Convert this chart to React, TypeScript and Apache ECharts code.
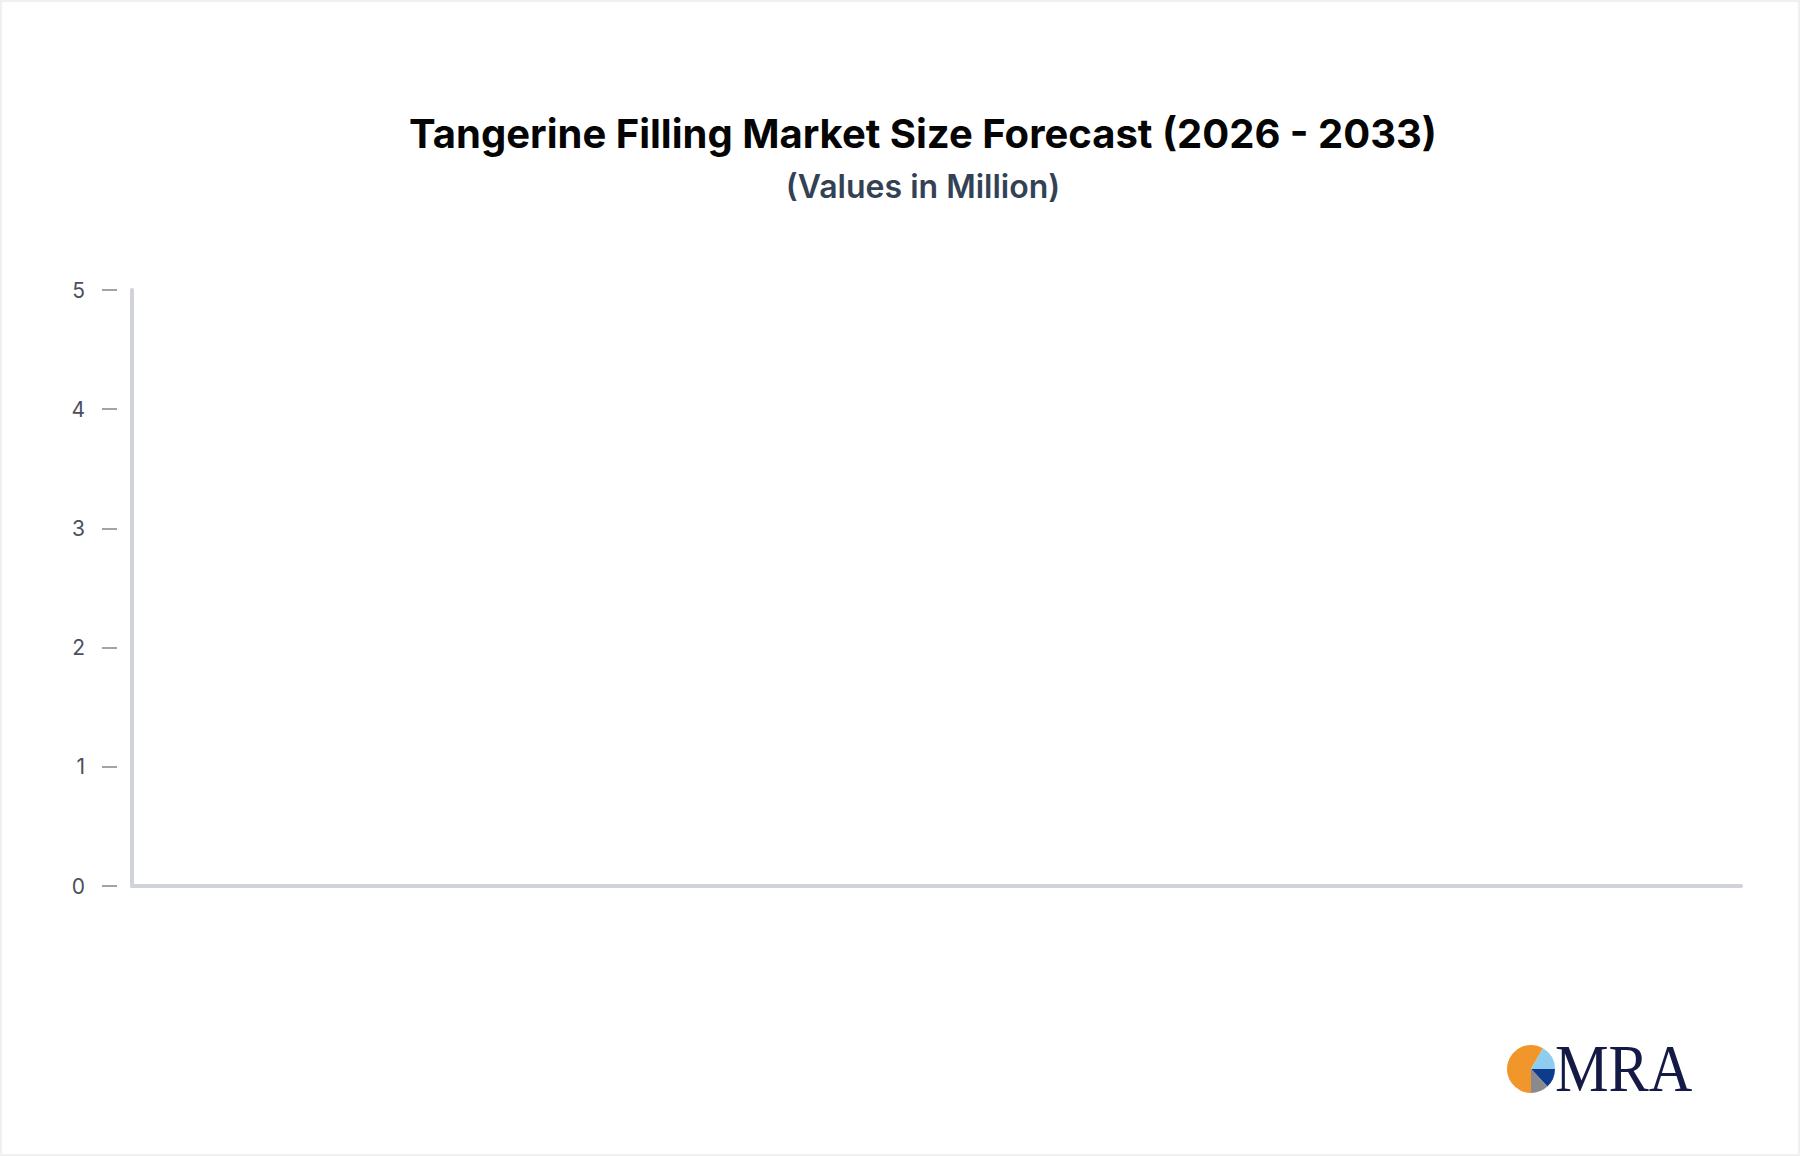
import React, { useEffect, useRef } from "react";
import * as echarts from "echarts";

const titleText = "Tangerine Filling Market Size Forecast (2026 - 2033)";
const subtitleText = "(Values in Million)";
const categories: string[] = [];
const seriesValues: number[] = [];
const yMin = 0;
const yMax = 5;
const yInterval = 1;

export default function App() {
  const ref = useRef<HTMLDivElement>(null);
  useEffect(() => {
    document.body.style.margin = "0";
    const chart = echarts.init(ref.current!, null, { renderer: "svg" });
    const axisColor = "#d1d3da";
    chart.setOption({
      animation: false,
      backgroundColor: "#ffffff",
      title: [
        {
          text: titleText,
          left: 918,
          top: 108,
          textAlign: "center",
          textStyle: { fontFamily: "Inter", fontWeight: "bold", fontSize: 40, color: "#050505" },
        },
        {
          text: subtitleText,
          left: 918,
          top: 165,
          textAlign: "center",
          textStyle: { fontFamily: "Inter", fontWeight: 600, fontSize: 32, color: "#334155" },
        },
      ],
      grid: { left: 132, right: 59, top: 290, bottom: 270, containLabel: false },
      xAxis: {
        type: "category",
        data: categories,
        axisLine: { show: true, lineStyle: { color: axisColor, width: 4 } },
        axisTick: { show: false },
        axisLabel: { show: false },
        splitLine: { show: false },
      },
      yAxis: [
        {
          type: "value",
          min: yMin,
          max: yMax,
          interval: yInterval,
          position: "left",
          offset: 15,
          axisLine: { show: false },
          axisTick: { show: true, length: 15, lineStyle: { color: "#a0a3aa", width: 2 } },
          axisLabel: { show: true, margin: 32, fontFamily: "Inter", fontSize: 21, color: "#4b5060" },
          splitLine: { show: false },
        },
        {
          type: "value",
          min: yMin,
          max: yMax,
          interval: yInterval,
          position: "left",
          offset: 0,
          axisLine: { show: true, lineStyle: { color: axisColor, width: 4 } },
          axisTick: { show: false },
          axisLabel: { show: false },
          splitLine: { show: false },
        },
      ],
      series: [
        {
          type: "bar",
          data: seriesValues,
          yAxisIndex: 0,
        },
      ],
      graphic: [
        {
          type: "group",
          children: [
            {
              type: "sector",
              shape: { cx: 1531, cy: 1069, r0: 0, r: 24, startAngle: Math.PI / 2, endAngle: (5 * Math.PI) / 3, clockwise: true },
              style: { fill: "#f0962a" },
            },
            {
              type: "sector",
              shape: { cx: 1531, cy: 1069, r0: 0, r: 24, startAngle: (5 * Math.PI) / 3, endAngle: 2 * Math.PI, clockwise: true },
              style: { fill: "#8ecdf0" },
            },
            {
              type: "sector",
              shape: { cx: 1531, cy: 1069, r0: 0, r: 24, startAngle: 0, endAngle: 0.82, clockwise: true },
              style: { fill: "#0f3b8c" },
            },
            {
              type: "sector",
              shape: { cx: 1531, cy: 1069, r0: 0, r: 24, startAngle: 0.82, endAngle: Math.PI / 2, clockwise: true },
              style: { fill: "#8a8a8e" },
            },
            {
              type: "text",
              x: 1555,
              y: 1102,
              scaleX: 0.9,
              style: {
                text: "MRA",
                fontFamily: "Liberation Serif",
                fontSize: 67,
                fill: "#141a45",
                verticalAlign: "bottom",
              },
            },
          ],
        },
      ],
    });
    return () => chart.dispose();
  }, []);
  return (
    <div style={{ position: "relative", width: 1800, height: 1156 }}>
      <div ref={ref} style={{ width: 1800, height: 1156 }} />
      <div
        style={{
          position: "absolute",
          left: 0,
          top: 0,
          width: 1800,
          height: 1156,
          boxSizing: "border-box",
          border: "2px solid #f0f0f0",
          pointerEvents: "none",
        }}
      />
    </div>
  );
}
